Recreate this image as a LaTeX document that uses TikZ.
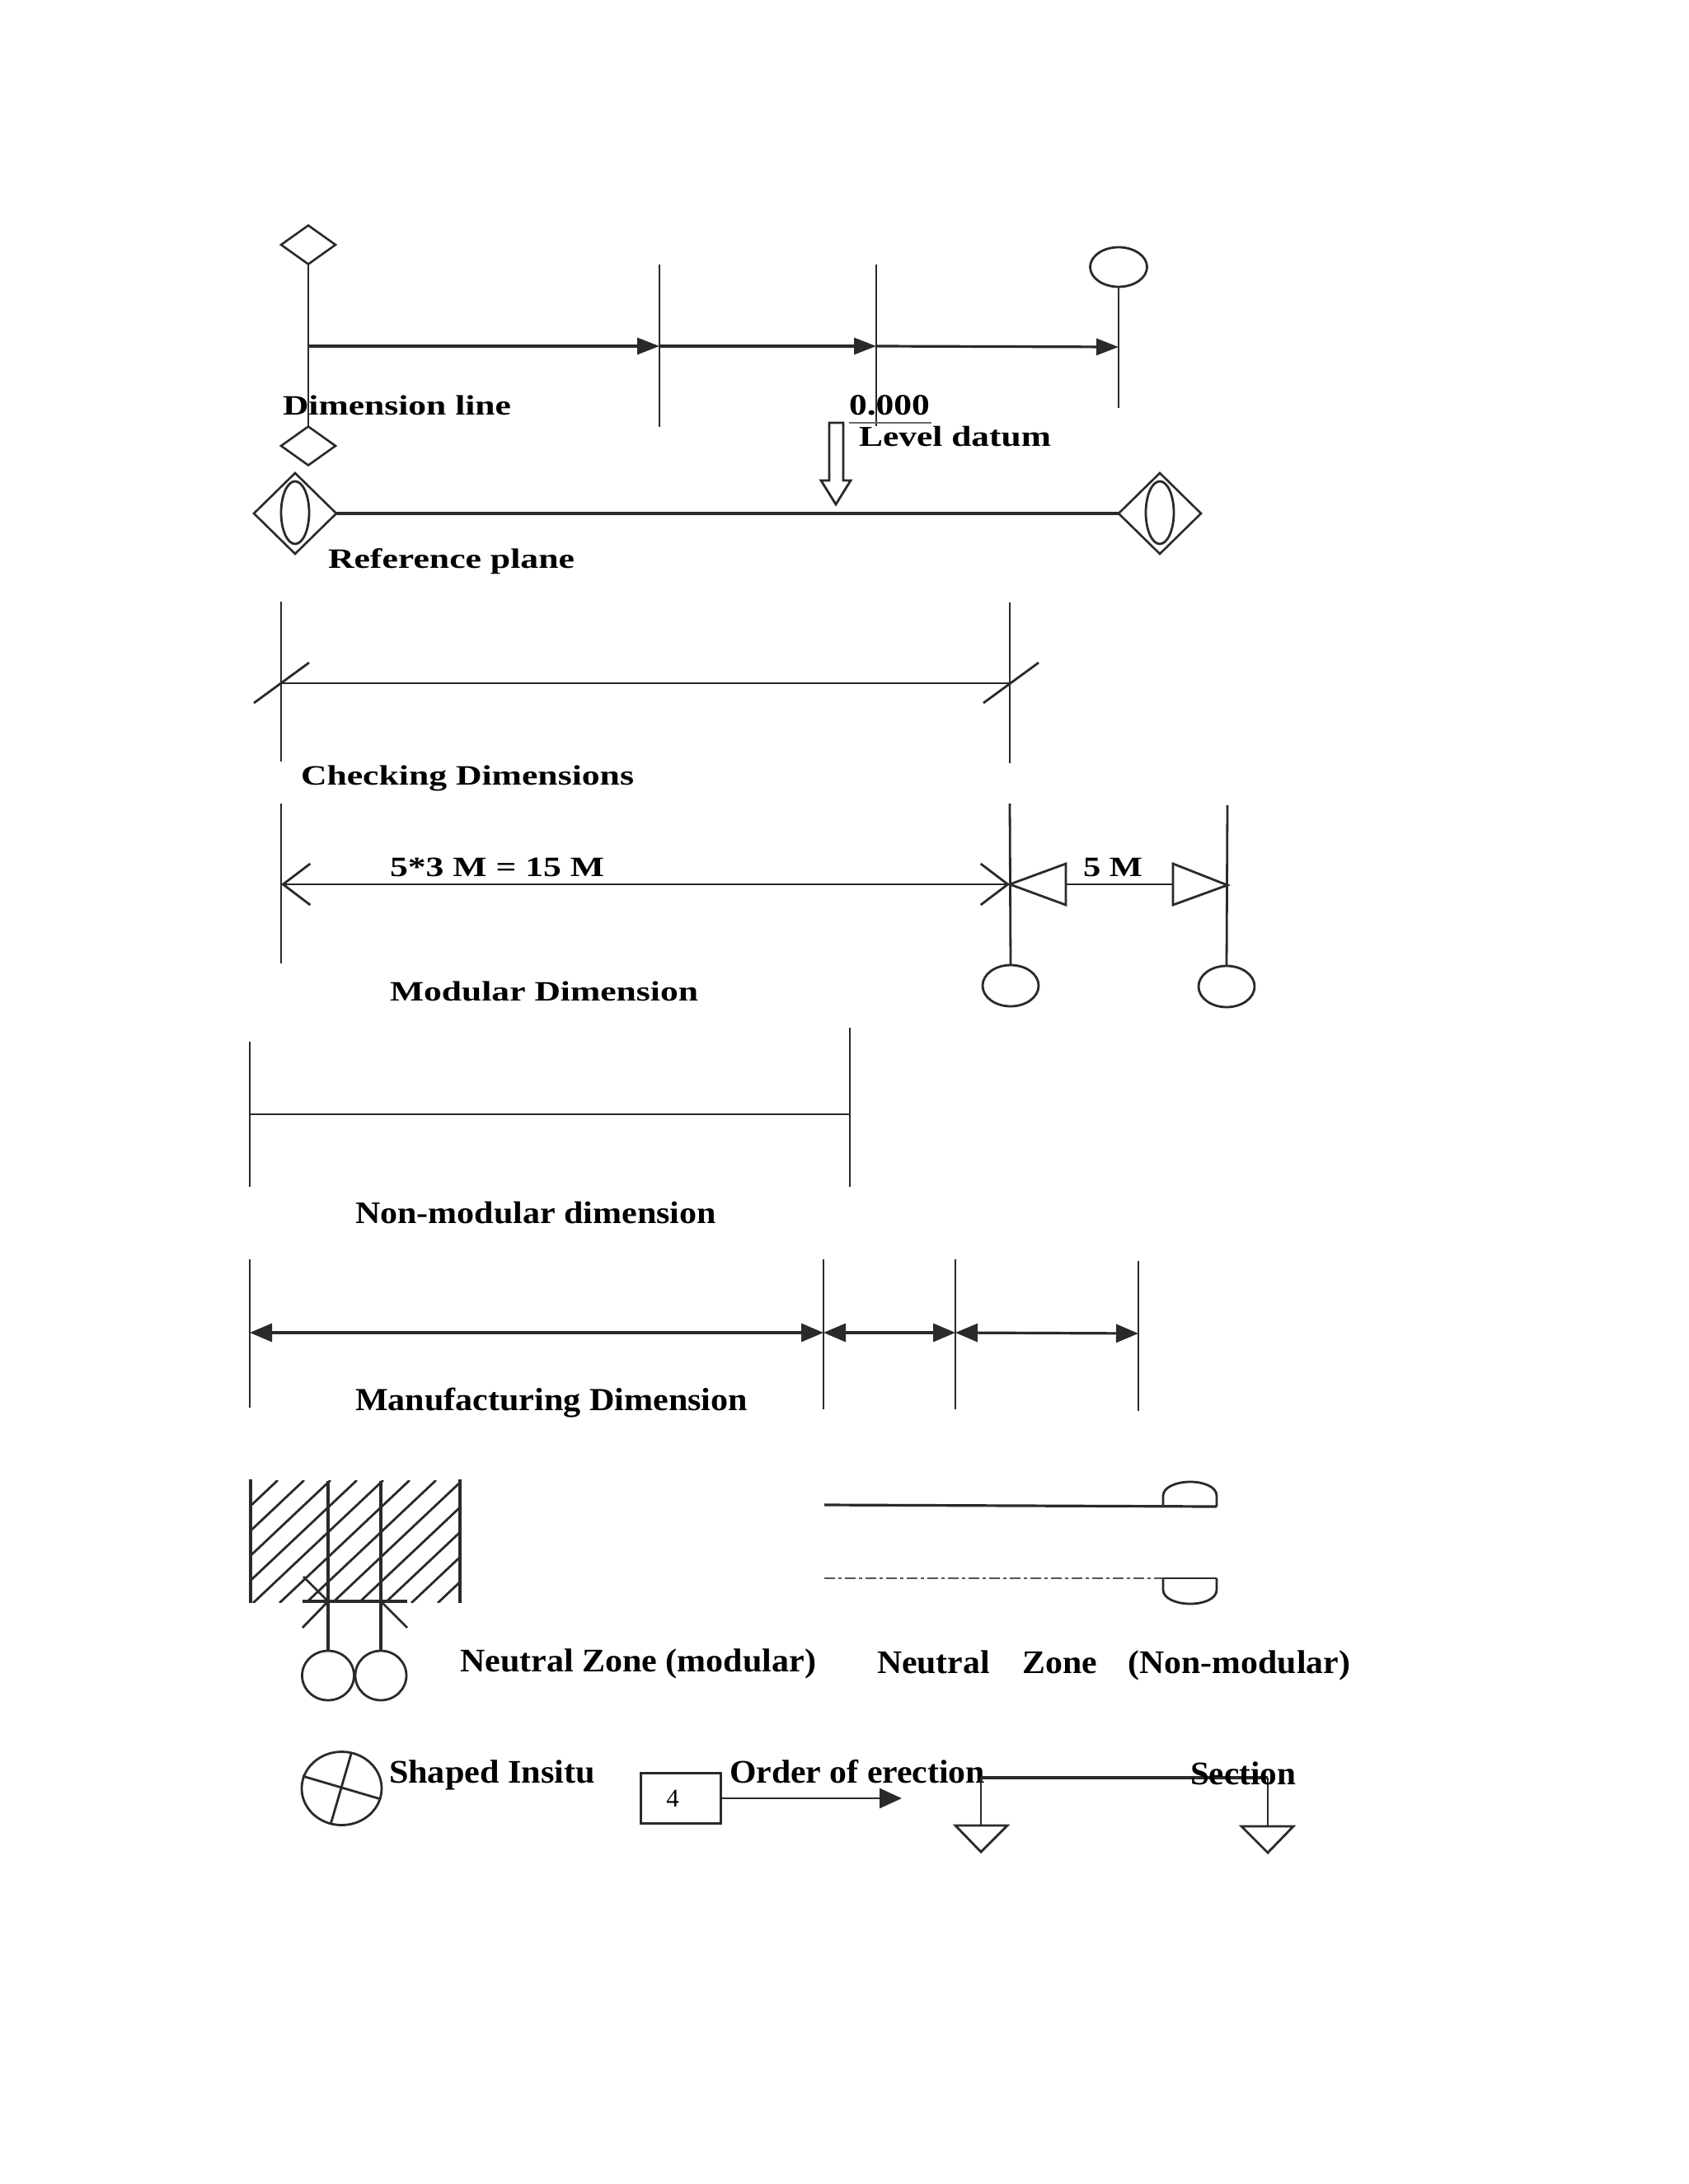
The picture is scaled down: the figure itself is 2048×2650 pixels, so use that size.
\documentclass[tikz,border=0pt]{standalone}
\usepackage{fontspec}
\setmainfont{Liberation Serif}
\usetikzlibrary{arrows.meta,shapes.geometric}
\newcommand{\fitw}[3][40]{\resizebox{#2pt}{\height}{\fontsize{#1}{#1}\selectfont #3}}
\definecolor{ink}{HTML}{2A2A2A}
\tikzset{
  x=1pt,y=-1pt,
  ln/.style={draw=ink,line width=3.2pt},
  thinln/.style={draw=ink,line width=2.8pt},
  lab/.style={anchor=base west,inner sep=0pt,outer sep=0pt,text=black,font=\fontsize{40}{48}\selectfont\bfseries},
  dia/.style={shape=diamond,draw=ink,line width=2.6pt,inner sep=0pt,outer sep=0pt,minimum width=#1},
  dia/.default=66pt,
  ell/.style={shape=ellipse,draw=ink,line width=2.8pt,inner sep=0pt,outer sep=0pt},
  solidtip/.style={-{Triangle[length=27pt,width=20pt]}},
  bothtip/.style={{Triangle[length=27pt,width=22pt]}-{Triangle[length=27pt,width=22pt]}},
  opentip/.style={{Straight Barb[length=33pt,width=50pt,line width=2.8pt]}-{Straight Barb[length=33pt,width=50pt,line width=2.8pt]}},
  tri/.style={draw=ink,line width=2.8pt,line join=miter}
}
\begin{document}
\begin{tikzpicture}
\fill[white] (0,0) rectangle (2048,2650);
\useasboundingbox (0,0) rectangle (2048,2650);

% --- Dimension line
\node[dia=66pt,minimum height=47pt] (dtop) at (374,297) {};
\node[dia=66pt,minimum height=47pt] (dbot) at (374,541) {};
\node[ell,minimum width=69pt,minimum height=48pt] (ctop) at (1357,324) {};
\draw[thinln] (dtop.south) -- (dbot.north);
\coordinate (v2t) at (800,321); \coordinate (v2b) at (800,518);
\coordinate (v3t) at (1063,321); \coordinate (v3b) at (1063,517);
\coordinate (v4b) at (1357,495);
\draw[thinln] (v2t) -- (v2b);
\draw[thinln] (v3t) -- (v3b);
\draw[thinln] (ctop.south) -- (v4b);
\coordinate (h0) at (374,420); \coordinate (h2) at (800,420);
\coordinate (h3) at (1063,420); \coordinate (h4) at (1357,421);
\draw[ln,solidtip] (h0) -- (h2);
\draw[ln,solidtip] (h2) -- (h3);
\draw[ln,solidtip] (h3) -- (h4);
\node[lab] (tdim) at (343,503) {\fitw[34]{277}{Dimension line}};
\node[lab] (tzero) at (1030,503) {\fitw[36]{98}{0.000}};
\coordinate (ula) at (1030,513); \coordinate (ulb) at (1130,513);
\draw[draw=ink!70,line width=2.4pt] (ula) -- (ulb);
\node[lab] (tlev) at (1042,541) {\fitw[35]{233}{Level datum}};

% --- level datum open arrow
\draw[thinln,line join=miter] (1006,513) -- (1023,513) -- (1023,583) -- (1032,583) -- (1014,612) -- (996,583) -- (1006,583) -- cycle;

% --- Reference plane
\node[dia=100pt,minimum height=98pt] (rl) at (358,623) {};
\node[ell,minimum width=34pt,minimum height=76pt] (rle) at (358,622) {};
\node[dia=100pt,minimum height=98pt] (rr) at (1407,623) {};
\node[ell,minimum width=34pt,minimum height=76pt] (rre) at (1407,622) {};
\draw[ln] (rl.east) -- (rr.west);
\node[lab] (tref) at (398,689) {\fitw[34]{299}{Reference plane}};

% --- Checking dimensions
\coordinate (cl1) at (341,730); \coordinate (cl2) at (341,924);
\coordinate (cr1) at (1225,731); \coordinate (cr2) at (1225,926);
\coordinate (cha) at (341,829); \coordinate (chb) at (1225,829);
\coordinate (tla) at (308,853); \coordinate (tlb) at (375,804);
\coordinate (tra) at (1193,853); \coordinate (trb) at (1260,804);
\draw[thinln] (cl1) -- (cl2);
\draw[thinln] (cr1) -- (cr2);
\draw[thinln] (cha) -- (chb);
\draw[thinln] (tla) -- (tlb);
\draw[thinln] (tra) -- (trb);
\node[lab] (tchk) at (365,952) {\fitw[34]{404}{Checking Dimensions}};

% --- Modular dimension
\coordinate (ml1) at (341,975); \coordinate (ml2) at (341,1169);
\node[ell,minimum width=68pt,minimum height=50pt] (mc1) at (1226,1196) {};
\node[ell,minimum width=68pt,minimum height=50pt] (mc2) at (1488,1197) {};
\coordinate (mt1) at (1225,975); \coordinate (mt2) at (1489,977);
\draw[thinln] (ml1) -- (ml2);
\draw[thinln] (mt1) -- (mc1.north);
\draw[thinln] (mt2) -- (mc2.north);
\coordinate (mha) at (341,1073); \coordinate (mhb) at (1225,1073);
\draw[thinln,opentip] (mha) -- (mhb);
\coordinate (t1a) at (1225,1073); \coordinate (t1b) at (1293,1048); \coordinate (t1c) at (1293,1098);
\coordinate (t2a) at (1489,1074); \coordinate (t2b) at (1423,1048); \coordinate (t2c) at (1423,1098);
\draw[tri] (t1a) -- (t1b) -- (t1c) -- cycle;
\draw[tri] (t2a) -- (t2b) -- (t2c) -- cycle;
\coordinate (m5a) at (1293,1073); \coordinate (m5b) at (1423,1073);
\draw[thinln] (m5a) -- (m5b);
\node[lab] (t15) at (473,1063) {\fitw[34]{260}{5*3 M = 15 M}};
\node[lab] (t5) at (1314,1063) {\fitw[34]{72}{5 M}};
\node[lab] (tmod) at (473,1214) {\fitw[34]{374}{Modular Dimension}};

% --- Non-modular dimension
\coordinate (n1a) at (303,1264); \coordinate (n1b) at (303,1440);
\coordinate (n2a) at (1031,1247); \coordinate (n2b) at (1031,1440);
\coordinate (nha) at (303,1352); \coordinate (nhb) at (1031,1352);
\draw[thinln] (n1a) -- (n1b);
\draw[thinln] (n2a) -- (n2b);
\draw[thinln] (nha) -- (nhb);
\node[lab] (tnon) at (431,1484) {\fitw[38]{438}{Non-modular dimension}};

% --- Manufacturing dimension
\coordinate (f1a) at (303,1528); \coordinate (f1b) at (303,1708);
\coordinate (f2a) at (999,1528); \coordinate (f2b) at (999,1710);
\coordinate (f3a) at (1159,1528); \coordinate (f3b) at (1159,1710);
\coordinate (f4a) at (1381,1530); \coordinate (f4b) at (1381,1712);
\foreach \p in {1,2,3,4} {\draw[thinln] (f\p a) -- (f\p b);}
\coordinate (fh1) at (303,1617); \coordinate (fh2) at (999,1617);
\coordinate (fh3) at (1159,1617); \coordinate (fh4) at (1381,1618);
\draw[ln,bothtip] (fh1) -- (fh2);
\draw[ln,bothtip] (fh2) -- (fh3);
\draw[ln,bothtip] (fh3) -- (fh4);
\node[lab] (tman) at (431,1711) {\fitw[39]{476}{Manufacturing Dimension}};

% --- Neutral zone (modular)
\begin{scope}
\clip (304,1796) rectangle (558,1944);
\foreach \k in {0,...,11} {
  \draw[thinln] ({337+32*\k},1796) -- ({337+32*\k-158},1945);
}
\end{scope}
\coordinate (z1a) at (304,1795); \coordinate (z1b) at (304,1945);
\coordinate (z4a) at (558,1795); \coordinate (z4b) at (558,1945);
\node[ell,minimum width=63pt,minimum height=60pt] (zc1) at (398,2033) {};
\node[ell,minimum width=62pt,minimum height=60pt] (zc2) at (462,2033) {};
\coordinate (z2a) at (398,1797); \coordinate (z3a) at (462,1797);
\draw[ln] (z1a) -- (z1b);
\draw[ln] (z4a) -- (z4b);
\draw[ln] (z2a) -- (zc1.north);
\draw[ln] (z3a) -- (zc2.north);
\coordinate (zha) at (367,1943); \coordinate (zhb) at (494,1943);
\draw[ln] (zha) -- (zhb);
\coordinate (x1a) at (367,1975); \coordinate (x1b) at (398,1943); \coordinate (x1c) at (368,1913);
\coordinate (x2a) at (494,1975); \coordinate (x2b) at (462,1943);
\draw[thinln] (x1a) -- (x1b) -- (x1c);
\draw[thinln] (x2a) -- (x2b);
\node[lab] (tnzm) at (558,2028) {\fitw{432}{Neutral Zone (modular)}};

% --- Neutral zone (non-modular)
\coordinate (u1) at (1000,1826); \coordinate (u2) at (1476,1828);
\coordinate (d1) at (1000,1915); \coordinate (d2) at (1411,1915); \coordinate (d3) at (1476,1915);
\draw[ln] (u1) -- (u2);
\draw[draw=ink!80,line width=2.6pt,dash pattern=on 13pt off 4pt on 4pt off 4pt] (d1) -- (d2);
\draw[thinln] (d2) -- (d3);
\draw[thinln] (1411,1828) -- (1411,1815) .. controls (1411,1804) and (1428,1798) .. (1444,1798) .. controls (1460,1798) and (1476,1804) .. (1476,1815) -- (u2);
\draw[thinln] (d2) -- (1411,1929) .. controls (1411,1940) and (1428,1946) .. (1444,1946) .. controls (1460,1946) and (1476,1940) .. (1476,1929) -- (d3);
\node[lab] (tnzn) at (1064,2030) {\fitw{574}{Neutral\hspace{38pt}Zone\hspace{36pt}(Non-modular)}};

% --- Shaped Insitu
\node[ell,minimum width=97pt,minimum height=89pt] (si) at (414.5,2170) {};
\coordinate (s1) at (426,2128); \coordinate (s2) at (401,2214);
\coordinate (s3) at (367,2155); \coordinate (s4) at (462,2183);
\draw[thinln] (s1) -- (s2);
\draw[thinln] (s3) -- (s4);
\node[lab] (tsi) at (472,2163) {\fitw{250}{Shaped Insitu}};

% --- Order of erection
\node[draw=ink,line width=2.8pt,minimum width=97pt,minimum height=61pt,inner sep=0pt,outer sep=0pt,font=\fontsize{31}{36}\selectfont] (box) at (826,2182) {\raisebox{-4pt}{\hspace{-20pt}4}};
\coordinate (ah) at (1094,2182);
\draw[thinln,-{Triangle[length=27pt,width=24pt]}] (box.east) -- (ah);
\node[lab] (tord) at (885,2163) {\fitw{310}{Order of erection}};

% --- Section
\coordinate (sa) at (1190,2157); \coordinate (sb) at (1538,2157);
\coordinate (sc) at (1190,2215); \coordinate (sd) at (1538,2215);
\draw[ln] (sa) -- (sb);
\draw[thinln] (sa) -- (sc);
\draw[thinln] (sb) -- (sd);
\coordinate (p1) at (1159,2215); \coordinate (p2) at (1222,2215); \coordinate (p3) at (1190,2247);
\coordinate (p4) at (1506,2216); \coordinate (p5) at (1569,2216); \coordinate (p6) at (1538,2248);
\draw[tri] (p1) -- (p2) -- (p3) -- cycle;
\draw[tri] (p4) -- (p5) -- (p6) -- cycle;
\node[lab] (tsec) at (1444,2165) {\fitw{128}{Section}};
\end{tikzpicture}
\end{document}
